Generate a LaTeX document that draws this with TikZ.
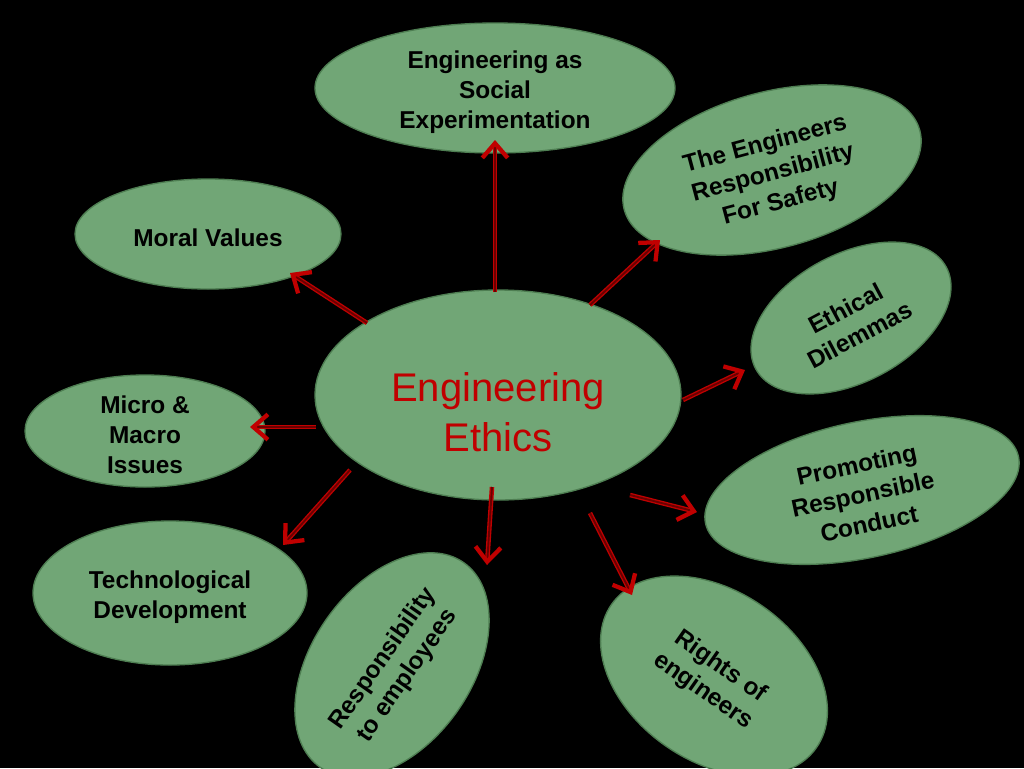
\documentclass[tikz,border=0pt]{standalone}
\usepackage{fontspec}
\setmainfont{Liberation Sans}
\usetikzlibrary{arrows.meta}
\definecolor{fillg}{HTML}{71A676}
\definecolor{edgeg}{HTML}{4E7E52}
\definecolor{arr}{HTML}{C00000}
\begin{document}
\begin{tikzpicture}[x=0.75pt,y=-0.75pt,
  arrw/.style={draw=arr,line width=1pt,double=arr!55!black,double distance=1.4pt,-{Straight Barb[length=11pt,width=19pt,line width=3.2pt]}}]
\fill[black] (0,0) rectangle (1024,768);
\useasboundingbox (0,0) rectangle (1024,768);
\newcommand{\bubble}[7]{%
 \fill[fillg,draw=edgeg,line width=1pt,rotate around={#5:(#1,#2)}] (#1,#2) ellipse [x radius=#3*0.75pt,y radius=#4*0.75pt];
 \node[align=center,font=\bfseries\fontsize{18.3}{22.5}\selectfont,rotate=#5,yshift=-3pt] (#6) at (#1,#2) {#7};}
\bubble{498}{395}{183}{105}{0}{c}{}
\node[text=arr,align=center,font=\fontsize{30}{37.5}\selectfont] at (498,412) {Engineering\\Ethics};
\bubble{495}{88}{180}{65}{0}{n1}{Engineering as\\Social\\Experimentation}
\bubble{772}{170}{153}{78}{15}{n2}{The Engineers\\Responsibility\\For Safety}
\bubble{208}{234}{133}{55}{0}{n3}{Moral Values}
\bubble{851}{318}{108}{64}{28}{n4}{Ethical\\Dilemmas}
\bubble{145}{431}{120}{56}{0}{n5}{Micro \&\\Macro\\Issues}
\bubble{862}{490}{160}{68}{12}{n6}{Promoting\\Responsible\\Conduct}
\bubble{170}{593}{137}{72}{0}{n7}{Technological\\Development}
\bubble{392}{665}{125}{80}{55}{n8}{Responsibility\\to employees}
\bubble{714}{676}{125}{85}{-35}{n9}{Rights of\\engineers}
\coordinate (s1) at (495,292); \coordinate (e1) at (495,140);
\coordinate (s2) at (590,305); \coordinate (e2) at (660,240);
\coordinate (s3) at (367,323); \coordinate (e3) at (290,273);
\coordinate (s4) at (683,400); \coordinate (e4) at (745,370);
\coordinate (s5) at (316,427); \coordinate (e5) at (250,427);
\coordinate (s6) at (630,495); \coordinate (e6) at (697,512);
\coordinate (s7) at (350,470); \coordinate (e7) at (283,545);
\coordinate (s8) at (492,487); \coordinate (e8) at (487,565);
\coordinate (s9) at (590,513); \coordinate (e9) at (632,595);
\foreach \i in {1,...,9} \draw[arrw] (s\i) -- (e\i);
\end{tikzpicture}
\end{document}
